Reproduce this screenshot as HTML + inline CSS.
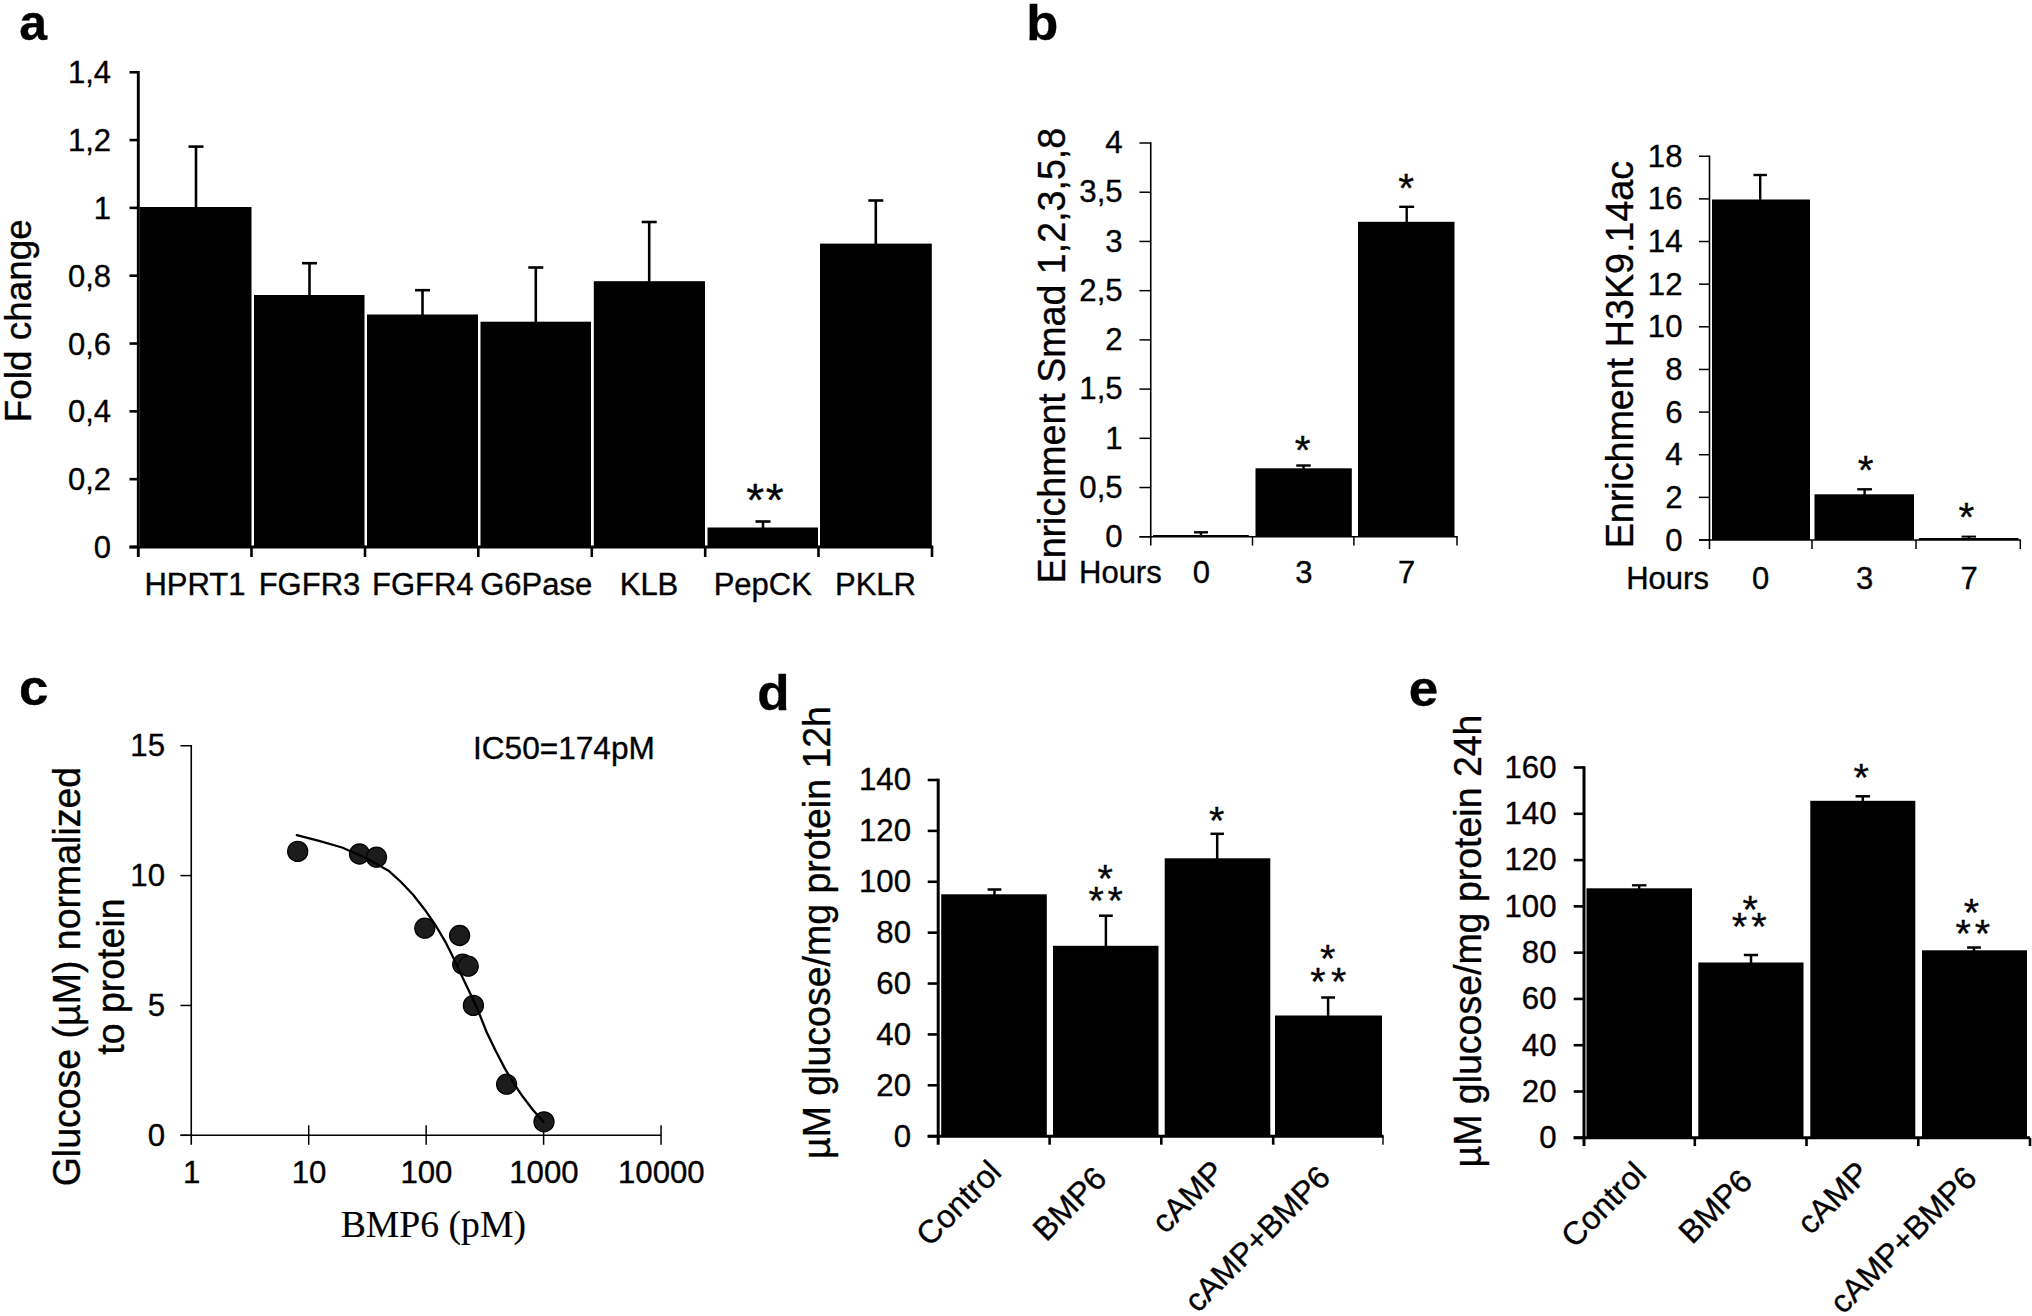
<!DOCTYPE html>
<html lang="en">
<head>
<meta charset="utf-8">
<title>Figure</title>
<style>
html,body{margin:0;padding:0;background:#fff;}
body{width:2032px;height:1316px;overflow:hidden;}
svg{display:block;}
svg text{font-family:'Liberation Sans', sans-serif;fill:#000;stroke:#000;stroke-width:0.35px;}
</style>
</head>
<body>
<svg width="2032" height="1316" viewBox="0 0 2032 1316">
<rect x="0" y="0" width="2032" height="1316" fill="#fff"/>
<text transform="translate(19.30,40.00)" font-size="50" font-weight="bold">a</text>
<text transform="translate(1026.30,40.00) scale(1.05,1)" font-size="50" font-weight="bold">b</text>
<text transform="translate(19.00,705.30) scale(1.06,1)" font-size="50" font-weight="bold">c</text>
<text transform="translate(757.30,710.00) scale(1.06,1)" font-size="50" font-weight="bold">d</text>
<text transform="translate(1408.70,705.50) scale(1.06,1)" font-size="50" font-weight="bold">e</text>
<line x1="129.50" y1="547.00" x2="138.30" y2="547.00" stroke="#000" stroke-width="2.6" stroke-linecap="butt"/>
<text transform="translate(111.00,558.00)" font-size="31" text-anchor="end">0</text>
<line x1="129.50" y1="479.18" x2="138.30" y2="479.18" stroke="#000" stroke-width="2.6" stroke-linecap="butt"/>
<text transform="translate(111.00,490.18)" font-size="31" text-anchor="end">0,2</text>
<line x1="129.50" y1="411.36" x2="138.30" y2="411.36" stroke="#000" stroke-width="2.6" stroke-linecap="butt"/>
<text transform="translate(111.00,422.36)" font-size="31" text-anchor="end">0,4</text>
<line x1="129.50" y1="343.54" x2="138.30" y2="343.54" stroke="#000" stroke-width="2.6" stroke-linecap="butt"/>
<text transform="translate(111.00,354.54)" font-size="31" text-anchor="end">0,6</text>
<line x1="129.50" y1="275.71" x2="138.30" y2="275.71" stroke="#000" stroke-width="2.6" stroke-linecap="butt"/>
<text transform="translate(111.00,286.71)" font-size="31" text-anchor="end">0,8</text>
<line x1="129.50" y1="207.89" x2="138.30" y2="207.89" stroke="#000" stroke-width="2.6" stroke-linecap="butt"/>
<text transform="translate(111.00,218.89)" font-size="31" text-anchor="end">1</text>
<line x1="129.50" y1="140.07" x2="138.30" y2="140.07" stroke="#000" stroke-width="2.6" stroke-linecap="butt"/>
<text transform="translate(111.00,151.07)" font-size="31" text-anchor="end">1,2</text>
<line x1="129.50" y1="72.25" x2="138.30" y2="72.25" stroke="#000" stroke-width="2.6" stroke-linecap="butt"/>
<text transform="translate(111.00,83.25)" font-size="31" text-anchor="end">1,4</text>
<line x1="138.30" y1="70.95" x2="138.30" y2="557.00" stroke="#000" stroke-width="2.9" stroke-linecap="butt"/>
<line x1="129.50" y1="547.00" x2="933.30" y2="547.00" stroke="#000" stroke-width="3.0" stroke-linecap="butt"/>
<line x1="251.50" y1="547.00" x2="251.50" y2="557.00" stroke="#000" stroke-width="2.6" stroke-linecap="butt"/>
<line x1="365.00" y1="547.00" x2="365.00" y2="557.00" stroke="#000" stroke-width="2.6" stroke-linecap="butt"/>
<line x1="478.30" y1="547.00" x2="478.30" y2="557.00" stroke="#000" stroke-width="2.6" stroke-linecap="butt"/>
<line x1="591.80" y1="547.00" x2="591.80" y2="557.00" stroke="#000" stroke-width="2.6" stroke-linecap="butt"/>
<line x1="705.20" y1="547.00" x2="705.20" y2="557.00" stroke="#000" stroke-width="2.6" stroke-linecap="butt"/>
<line x1="818.50" y1="547.00" x2="818.50" y2="557.00" stroke="#000" stroke-width="2.6" stroke-linecap="butt"/>
<line x1="932.00" y1="547.00" x2="932.00" y2="557.00" stroke="#000" stroke-width="2.6" stroke-linecap="butt"/>
<rect x="139.70" y="207.00" width="111.80" height="340.00" fill="#000"/>
<rect x="254.00" y="295.00" width="110.50" height="252.00" fill="#000"/>
<rect x="367.00" y="314.50" width="111.00" height="232.50" fill="#000"/>
<rect x="480.50" y="321.70" width="110.50" height="225.30" fill="#000"/>
<rect x="593.80" y="281.20" width="111.20" height="265.80" fill="#000"/>
<rect x="707.50" y="527.50" width="110.50" height="19.50" fill="#000"/>
<rect x="820.00" y="243.60" width="111.80" height="303.40" fill="#000"/>
<line x1="196.00" y1="146.60" x2="196.00" y2="208.00" stroke="#000" stroke-width="2.6" stroke-linecap="butt"/>
<line x1="188.50" y1="146.60" x2="203.50" y2="146.60" stroke="#000" stroke-width="2.6" stroke-linecap="butt"/>
<line x1="309.50" y1="263.20" x2="309.50" y2="296.00" stroke="#000" stroke-width="2.6" stroke-linecap="butt"/>
<line x1="302.00" y1="263.20" x2="317.00" y2="263.20" stroke="#000" stroke-width="2.6" stroke-linecap="butt"/>
<line x1="422.50" y1="290.20" x2="422.50" y2="315.50" stroke="#000" stroke-width="2.6" stroke-linecap="butt"/>
<line x1="415.00" y1="290.20" x2="430.00" y2="290.20" stroke="#000" stroke-width="2.6" stroke-linecap="butt"/>
<line x1="535.80" y1="267.50" x2="535.80" y2="322.70" stroke="#000" stroke-width="2.6" stroke-linecap="butt"/>
<line x1="528.30" y1="267.50" x2="543.30" y2="267.50" stroke="#000" stroke-width="2.6" stroke-linecap="butt"/>
<line x1="649.20" y1="222.00" x2="649.20" y2="282.20" stroke="#000" stroke-width="2.6" stroke-linecap="butt"/>
<line x1="641.70" y1="222.00" x2="656.70" y2="222.00" stroke="#000" stroke-width="2.6" stroke-linecap="butt"/>
<line x1="763.00" y1="521.50" x2="763.00" y2="528.50" stroke="#000" stroke-width="2.6" stroke-linecap="butt"/>
<line x1="755.50" y1="521.50" x2="770.50" y2="521.50" stroke="#000" stroke-width="2.6" stroke-linecap="butt"/>
<line x1="875.80" y1="200.50" x2="875.80" y2="244.60" stroke="#000" stroke-width="2.6" stroke-linecap="butt"/>
<line x1="868.30" y1="200.50" x2="883.30" y2="200.50" stroke="#000" stroke-width="2.6" stroke-linecap="butt"/>
<text transform="translate(195.00,595.30)" font-size="31" text-anchor="middle">HPRT1</text>
<text transform="translate(309.50,595.30)" font-size="31" text-anchor="middle">FGFR3</text>
<text transform="translate(422.80,595.30)" font-size="31" text-anchor="middle">FGFR4</text>
<text transform="translate(536.20,595.30)" font-size="31" text-anchor="middle">G6Pase</text>
<text transform="translate(649.00,595.30)" font-size="31" text-anchor="middle">KLB</text>
<text transform="translate(762.80,595.30)" font-size="31" text-anchor="middle">PepCK</text>
<text transform="translate(875.50,595.30)" font-size="31" text-anchor="middle">PKLR</text>
<text transform="translate(30.60,320.80) rotate(-90)" font-size="36.9" text-anchor="middle">Fold change</text>
<text transform="translate(755.19,515.81)" font-size="46" text-anchor="middle">*</text>
<text transform="translate(774.59,515.81)" font-size="46" text-anchor="middle">*</text>
<line x1="1139.45" y1="536.75" x2="1150.75" y2="536.75" stroke="#000" stroke-width="1.5" stroke-linecap="butt"/>
<text transform="translate(1122.70,546.95)" font-size="31.2" text-anchor="end">0</text>
<line x1="1139.45" y1="487.53" x2="1150.75" y2="487.53" stroke="#000" stroke-width="1.5" stroke-linecap="butt"/>
<text transform="translate(1122.70,497.73)" font-size="31.2" text-anchor="end">0,5</text>
<line x1="1139.45" y1="438.31" x2="1150.75" y2="438.31" stroke="#000" stroke-width="1.5" stroke-linecap="butt"/>
<text transform="translate(1122.70,448.51)" font-size="31.2" text-anchor="end">1</text>
<line x1="1139.45" y1="389.09" x2="1150.75" y2="389.09" stroke="#000" stroke-width="1.5" stroke-linecap="butt"/>
<text transform="translate(1122.70,399.29)" font-size="31.2" text-anchor="end">1,5</text>
<line x1="1139.45" y1="339.88" x2="1150.75" y2="339.88" stroke="#000" stroke-width="1.5" stroke-linecap="butt"/>
<text transform="translate(1122.70,350.07)" font-size="31.2" text-anchor="end">2</text>
<line x1="1139.45" y1="290.66" x2="1150.75" y2="290.66" stroke="#000" stroke-width="1.5" stroke-linecap="butt"/>
<text transform="translate(1122.70,300.86)" font-size="31.2" text-anchor="end">2,5</text>
<line x1="1139.45" y1="241.44" x2="1150.75" y2="241.44" stroke="#000" stroke-width="1.5" stroke-linecap="butt"/>
<text transform="translate(1122.70,251.64)" font-size="31.2" text-anchor="end">3</text>
<line x1="1139.45" y1="192.22" x2="1150.75" y2="192.22" stroke="#000" stroke-width="1.5" stroke-linecap="butt"/>
<text transform="translate(1122.70,202.42)" font-size="31.2" text-anchor="end">3,5</text>
<line x1="1139.45" y1="143.00" x2="1150.75" y2="143.00" stroke="#000" stroke-width="1.5" stroke-linecap="butt"/>
<text transform="translate(1122.70,153.20)" font-size="31.2" text-anchor="end">4</text>
<line x1="1150.75" y1="142.25" x2="1150.75" y2="545.55" stroke="#000" stroke-width="1.6" stroke-linecap="butt"/>
<line x1="1139.45" y1="536.75" x2="1457.70" y2="536.75" stroke="#000" stroke-width="1.6" stroke-linecap="butt"/>
<line x1="1252.50" y1="536.75" x2="1252.50" y2="545.55" stroke="#000" stroke-width="1.5" stroke-linecap="butt"/>
<line x1="1353.90" y1="536.75" x2="1353.90" y2="545.55" stroke="#000" stroke-width="1.5" stroke-linecap="butt"/>
<line x1="1457.00" y1="536.75" x2="1457.00" y2="545.55" stroke="#000" stroke-width="1.5" stroke-linecap="butt"/>
<rect x="1153.00" y="535.00" width="95.80" height="1.75" fill="#000"/>
<rect x="1255.50" y="468.30" width="96.30" height="68.45" fill="#000"/>
<rect x="1358.00" y="221.80" width="96.50" height="314.95" fill="#000"/>
<line x1="1201.00" y1="532.30" x2="1201.00" y2="535.00" stroke="#000" stroke-width="2.4" stroke-linecap="butt"/>
<line x1="1194.00" y1="532.30" x2="1208.00" y2="532.30" stroke="#000" stroke-width="2.4" stroke-linecap="butt"/>
<line x1="1303.50" y1="465.50" x2="1303.50" y2="469.00" stroke="#000" stroke-width="2.4" stroke-linecap="butt"/>
<line x1="1296.25" y1="465.50" x2="1310.75" y2="465.50" stroke="#000" stroke-width="2.4" stroke-linecap="butt"/>
<line x1="1406.70" y1="206.80" x2="1406.70" y2="222.50" stroke="#000" stroke-width="2.4" stroke-linecap="butt"/>
<line x1="1399.20" y1="206.80" x2="1414.20" y2="206.80" stroke="#000" stroke-width="2.4" stroke-linecap="butt"/>
<text transform="translate(1302.54,463.50)" font-size="40.5" text-anchor="middle">*</text>
<text transform="translate(1406.24,201.80)" font-size="40.5" text-anchor="middle">*</text>
<text transform="translate(1079.00,583.00)" font-size="31">Hours</text>
<text transform="translate(1201.30,583.00)" font-size="31" text-anchor="middle">0</text>
<text transform="translate(1303.80,583.00)" font-size="31" text-anchor="middle">3</text>
<text transform="translate(1406.50,583.00)" font-size="31" text-anchor="middle">7</text>
<text transform="translate(1065.30,355.60) rotate(-90) scale(1,1.05)" font-size="37.6" text-anchor="middle">Enrichment Smad 1,2,3,5,8</text>
<line x1="1699.00" y1="540.00" x2="1709.50" y2="540.00" stroke="#000" stroke-width="1.5" stroke-linecap="butt"/>
<text transform="translate(1682.50,550.60)" font-size="31.2" text-anchor="end">0</text>
<line x1="1699.00" y1="497.36" x2="1709.50" y2="497.36" stroke="#000" stroke-width="1.5" stroke-linecap="butt"/>
<text transform="translate(1682.50,507.96)" font-size="31.2" text-anchor="end">2</text>
<line x1="1699.00" y1="454.72" x2="1709.50" y2="454.72" stroke="#000" stroke-width="1.5" stroke-linecap="butt"/>
<text transform="translate(1682.50,465.32)" font-size="31.2" text-anchor="end">4</text>
<line x1="1699.00" y1="412.08" x2="1709.50" y2="412.08" stroke="#000" stroke-width="1.5" stroke-linecap="butt"/>
<text transform="translate(1682.50,422.68)" font-size="31.2" text-anchor="end">6</text>
<line x1="1699.00" y1="369.44" x2="1709.50" y2="369.44" stroke="#000" stroke-width="1.5" stroke-linecap="butt"/>
<text transform="translate(1682.50,380.04)" font-size="31.2" text-anchor="end">8</text>
<line x1="1699.00" y1="326.81" x2="1709.50" y2="326.81" stroke="#000" stroke-width="1.5" stroke-linecap="butt"/>
<text transform="translate(1682.50,337.41)" font-size="31.2" text-anchor="end">10</text>
<line x1="1699.00" y1="284.17" x2="1709.50" y2="284.17" stroke="#000" stroke-width="1.5" stroke-linecap="butt"/>
<text transform="translate(1682.50,294.77)" font-size="31.2" text-anchor="end">12</text>
<line x1="1699.00" y1="241.53" x2="1709.50" y2="241.53" stroke="#000" stroke-width="1.5" stroke-linecap="butt"/>
<text transform="translate(1682.50,252.13)" font-size="31.2" text-anchor="end">14</text>
<line x1="1699.00" y1="198.89" x2="1709.50" y2="198.89" stroke="#000" stroke-width="1.5" stroke-linecap="butt"/>
<text transform="translate(1682.50,209.49)" font-size="31.2" text-anchor="end">16</text>
<line x1="1699.00" y1="156.25" x2="1709.50" y2="156.25" stroke="#000" stroke-width="1.5" stroke-linecap="butt"/>
<text transform="translate(1682.50,166.85)" font-size="31.2" text-anchor="end">18</text>
<line x1="1709.50" y1="155.50" x2="1709.50" y2="549.00" stroke="#000" stroke-width="1.6" stroke-linecap="butt"/>
<line x1="1699.00" y1="540.00" x2="2021.00" y2="540.00" stroke="#000" stroke-width="1.6" stroke-linecap="butt"/>
<line x1="1812.00" y1="540.00" x2="1812.00" y2="549.00" stroke="#000" stroke-width="1.5" stroke-linecap="butt"/>
<line x1="1916.00" y1="540.00" x2="1916.00" y2="549.00" stroke="#000" stroke-width="1.5" stroke-linecap="butt"/>
<line x1="2020.30" y1="540.00" x2="2020.30" y2="549.00" stroke="#000" stroke-width="1.5" stroke-linecap="butt"/>
<rect x="1712.00" y="199.50" width="98.00" height="340.50" fill="#000"/>
<rect x="1814.50" y="494.30" width="99.50" height="45.70" fill="#000"/>
<rect x="1919.00" y="538.00" width="99.50" height="2.00" fill="#000"/>
<line x1="1760.20" y1="175.00" x2="1760.20" y2="200.50" stroke="#000" stroke-width="2.4" stroke-linecap="butt"/>
<line x1="1753.45" y1="175.00" x2="1766.95" y2="175.00" stroke="#000" stroke-width="2.4" stroke-linecap="butt"/>
<line x1="1864.60" y1="489.30" x2="1864.60" y2="495.00" stroke="#000" stroke-width="2.4" stroke-linecap="butt"/>
<line x1="1857.25" y1="489.30" x2="1871.95" y2="489.30" stroke="#000" stroke-width="2.4" stroke-linecap="butt"/>
<line x1="1968.80" y1="536.60" x2="1968.80" y2="538.50" stroke="#000" stroke-width="2.0" stroke-linecap="butt"/>
<line x1="1961.55" y1="536.60" x2="1976.05" y2="536.60" stroke="#000" stroke-width="2.0" stroke-linecap="butt"/>
<text transform="translate(1865.54,484.30)" font-size="40.5" text-anchor="middle">*</text>
<text transform="translate(1966.44,530.70)" font-size="40.5" text-anchor="middle">*</text>
<text transform="translate(1626.20,588.70)" font-size="31">Hours</text>
<text transform="translate(1760.50,588.70)" font-size="31" text-anchor="middle">0</text>
<text transform="translate(1864.60,588.70)" font-size="31" text-anchor="middle">3</text>
<text transform="translate(1969.00,588.70)" font-size="31" text-anchor="middle">7</text>
<text transform="translate(1632.75,354.60) rotate(-90) scale(1,1.05)" font-size="37.7" text-anchor="middle">Enrichment H3K9.14ac</text>
<line x1="180.45" y1="1135.30" x2="191.25" y2="1135.30" stroke="#000" stroke-width="1.5" stroke-linecap="butt"/>
<text transform="translate(165.00,1145.70)" font-size="31.2" text-anchor="end">0</text>
<line x1="180.45" y1="1005.45" x2="191.25" y2="1005.45" stroke="#000" stroke-width="1.5" stroke-linecap="butt"/>
<text transform="translate(165.00,1015.85)" font-size="31.2" text-anchor="end">5</text>
<line x1="180.45" y1="875.60" x2="191.25" y2="875.60" stroke="#000" stroke-width="1.5" stroke-linecap="butt"/>
<text transform="translate(165.00,886.00)" font-size="31.2" text-anchor="end">10</text>
<line x1="180.45" y1="745.75" x2="191.25" y2="745.75" stroke="#000" stroke-width="1.5" stroke-linecap="butt"/>
<text transform="translate(165.00,756.15)" font-size="31.2" text-anchor="end">15</text>
<line x1="191.25" y1="745.00" x2="191.25" y2="1144.80" stroke="#000" stroke-width="1.6" stroke-linecap="butt"/>
<line x1="180.45" y1="1135.30" x2="661.30" y2="1135.30" stroke="#000" stroke-width="1.6" stroke-linecap="butt"/>
<text transform="translate(191.55,1183.30)" font-size="31.2" text-anchor="middle">1</text>
<line x1="308.70" y1="1125.30" x2="308.70" y2="1144.80" stroke="#000" stroke-width="1.5" stroke-linecap="butt"/>
<text transform="translate(309.00,1183.30)" font-size="31.2" text-anchor="middle">10</text>
<line x1="426.15" y1="1125.30" x2="426.15" y2="1144.80" stroke="#000" stroke-width="1.5" stroke-linecap="butt"/>
<text transform="translate(426.45,1183.30)" font-size="31.2" text-anchor="middle">100</text>
<line x1="543.60" y1="1125.30" x2="543.60" y2="1144.80" stroke="#000" stroke-width="1.5" stroke-linecap="butt"/>
<text transform="translate(543.90,1183.30)" font-size="31.2" text-anchor="middle">1000</text>
<line x1="661.05" y1="1125.30" x2="661.05" y2="1144.80" stroke="#000" stroke-width="1.5" stroke-linecap="butt"/>
<text transform="translate(661.35,1183.30)" font-size="31.2" text-anchor="middle">10000</text>
<circle cx="297.7" cy="851.4" r="10.0" fill="#1c1c1c" stroke="#000" stroke-width="1.3"/>
<circle cx="359.5" cy="854" r="10.0" fill="#1c1c1c" stroke="#000" stroke-width="1.3"/>
<circle cx="376.5" cy="857.2" r="10.0" fill="#1c1c1c" stroke="#000" stroke-width="1.3"/>
<circle cx="424.8" cy="928.2" r="10.0" fill="#1c1c1c" stroke="#000" stroke-width="1.3"/>
<circle cx="459.6" cy="935.5" r="10.0" fill="#1c1c1c" stroke="#000" stroke-width="1.3"/>
<circle cx="462.7" cy="964.2" r="10.0" fill="#1c1c1c" stroke="#000" stroke-width="1.3"/>
<circle cx="468.2" cy="966.2" r="10.0" fill="#1c1c1c" stroke="#000" stroke-width="1.3"/>
<circle cx="473.4" cy="1005.4" r="10.0" fill="#1c1c1c" stroke="#000" stroke-width="1.3"/>
<circle cx="506.6" cy="1084.2" r="10.0" fill="#1c1c1c" stroke="#000" stroke-width="1.3"/>
<circle cx="544" cy="1121.8" r="10.0" fill="#1c1c1c" stroke="#000" stroke-width="1.3"/>
<polyline fill="none" stroke="#000" stroke-width="2.3" stroke-linejoin="round" stroke-linecap="round" points="296.8,835.1 320.0,841.2 342.0,847.5 366.0,858.0 388.5,870.7 401.0,882.0 413.1,894.8 426.0,911.3 436.0,926.0 445.4,941.8 453.0,957.0 460.9,974.1 476.4,1006.4 486.7,1032.2 495.5,1050.5 504.8,1068.4 513.5,1083.0 522.9,1096.8 533.0,1110.0 543.6,1121.9"/>
<text transform="translate(473.00,758.50)" font-size="31.6">IC50=174pM</text>
<text transform="translate(340.70,1237.20)" font-size="37.7" style="font-family:'Liberation Serif', serif;stroke-width:0.1px">BMP6 (pM)</text>
<text transform="translate(79.50,976.60) rotate(-90) scale(1,1.05)" font-size="37.5" text-anchor="middle">Glucose (µM) normalized</text>
<text transform="translate(124.25,976.60) rotate(-90) scale(1,1.05)" font-size="37.5" text-anchor="middle">to protein</text>
<line x1="927.70" y1="1136.20" x2="938.20" y2="1136.20" stroke="#000" stroke-width="2.6" stroke-linecap="butt"/>
<text transform="translate(911.00,1146.50)" font-size="31.2" text-anchor="end">0</text>
<line x1="927.70" y1="1085.31" x2="938.20" y2="1085.31" stroke="#000" stroke-width="2.6" stroke-linecap="butt"/>
<text transform="translate(911.00,1095.61)" font-size="31.2" text-anchor="end">20</text>
<line x1="927.70" y1="1034.43" x2="938.20" y2="1034.43" stroke="#000" stroke-width="2.6" stroke-linecap="butt"/>
<text transform="translate(911.00,1044.73)" font-size="31.2" text-anchor="end">40</text>
<line x1="927.70" y1="983.54" x2="938.20" y2="983.54" stroke="#000" stroke-width="2.6" stroke-linecap="butt"/>
<text transform="translate(911.00,993.84)" font-size="31.2" text-anchor="end">60</text>
<line x1="927.70" y1="932.66" x2="938.20" y2="932.66" stroke="#000" stroke-width="2.6" stroke-linecap="butt"/>
<text transform="translate(911.00,942.96)" font-size="31.2" text-anchor="end">80</text>
<line x1="927.70" y1="881.77" x2="938.20" y2="881.77" stroke="#000" stroke-width="2.6" stroke-linecap="butt"/>
<text transform="translate(911.00,892.07)" font-size="31.2" text-anchor="end">100</text>
<line x1="927.70" y1="830.89" x2="938.20" y2="830.89" stroke="#000" stroke-width="2.6" stroke-linecap="butt"/>
<text transform="translate(911.00,841.19)" font-size="31.2" text-anchor="end">120</text>
<line x1="927.70" y1="780.00" x2="938.20" y2="780.00" stroke="#000" stroke-width="2.6" stroke-linecap="butt"/>
<text transform="translate(911.00,790.30)" font-size="31.2" text-anchor="end">140</text>
<line x1="938.20" y1="778.70" x2="938.20" y2="1144.70" stroke="#000" stroke-width="3.0" stroke-linecap="butt"/>
<line x1="927.70" y1="1136.20" x2="1383.60" y2="1136.20" stroke="#000" stroke-width="3.0" stroke-linecap="butt"/>
<line x1="1049.60" y1="1136.20" x2="1049.60" y2="1144.70" stroke="#000" stroke-width="2.6" stroke-linecap="butt"/>
<line x1="1161.30" y1="1136.20" x2="1161.30" y2="1144.70" stroke="#000" stroke-width="2.6" stroke-linecap="butt"/>
<line x1="1273.20" y1="1136.20" x2="1273.20" y2="1144.70" stroke="#000" stroke-width="2.6" stroke-linecap="butt"/>
<line x1="1383.00" y1="1136.20" x2="1383.00" y2="1144.70" stroke="#000" stroke-width="1.4" stroke-linecap="butt"/>
<rect x="941.20" y="894.30" width="105.60" height="241.90" fill="#000"/>
<rect x="1053.00" y="945.80" width="105.50" height="190.40" fill="#000"/>
<rect x="1164.70" y="858.30" width="105.60" height="277.90" fill="#000"/>
<rect x="1275.00" y="1015.50" width="107.00" height="120.70" fill="#000"/>
<line x1="994.50" y1="889.50" x2="994.50" y2="895.00" stroke="#000" stroke-width="2.5" stroke-linecap="butt"/>
<line x1="987.60" y1="889.50" x2="1001.40" y2="889.50" stroke="#000" stroke-width="2.5" stroke-linecap="butt"/>
<line x1="1105.90" y1="915.70" x2="1105.90" y2="947.00" stroke="#000" stroke-width="2.5" stroke-linecap="butt"/>
<line x1="1099.00" y1="915.70" x2="1112.80" y2="915.70" stroke="#000" stroke-width="2.5" stroke-linecap="butt"/>
<line x1="1217.20" y1="833.80" x2="1217.20" y2="859.00" stroke="#000" stroke-width="2.5" stroke-linecap="butt"/>
<line x1="1210.45" y1="833.80" x2="1223.95" y2="833.80" stroke="#000" stroke-width="2.5" stroke-linecap="butt"/>
<line x1="1328.10" y1="997.50" x2="1328.10" y2="1016.50" stroke="#000" stroke-width="2.5" stroke-linecap="butt"/>
<line x1="1321.20" y1="997.50" x2="1335.00" y2="997.50" stroke="#000" stroke-width="2.5" stroke-linecap="butt"/>
<text transform="translate(1105.24,892.28)" font-size="39.5" text-anchor="middle">*</text>
<text transform="translate(1096.14,913.98)" font-size="39.5" text-anchor="middle">*</text>
<text transform="translate(1115.14,913.98)" font-size="39.5" text-anchor="middle">*</text>
<text transform="translate(1216.74,833.68)" font-size="39.5" text-anchor="middle">*</text>
<text transform="translate(1327.74,972.08)" font-size="39.5" text-anchor="middle">*</text>
<text transform="translate(1318.04,994.78)" font-size="39.5" text-anchor="middle">*</text>
<text transform="translate(1338.74,994.78)" font-size="39.5" text-anchor="middle">*</text>
<text transform="translate(1003.20,1174.00) rotate(-45)" font-size="32.3" text-anchor="end">Control</text>
<text transform="translate(1108.40,1180.30) rotate(-45)" font-size="32.3" text-anchor="end">BMP6</text>
<text transform="translate(1226.20,1174.00) rotate(-45)" font-size="32.3" text-anchor="end">cAMP</text>
<text transform="translate(1332.10,1179.30) rotate(-45)" font-size="31.8" text-anchor="end">cAMP+BMP6</text>
<text transform="translate(830.00,932.50) rotate(-90) scale(1,1.03)" font-size="37.5" text-anchor="middle">µM glucose/mg protein 12h</text>
<line x1="1573.70" y1="1137.80" x2="1584.00" y2="1137.80" stroke="#000" stroke-width="2.6" stroke-linecap="butt"/>
<text transform="translate(1556.50,1148.10)" font-size="31.2" text-anchor="end">0</text>
<line x1="1573.70" y1="1091.51" x2="1584.00" y2="1091.51" stroke="#000" stroke-width="2.6" stroke-linecap="butt"/>
<text transform="translate(1556.50,1101.81)" font-size="31.2" text-anchor="end">20</text>
<line x1="1573.70" y1="1045.22" x2="1584.00" y2="1045.22" stroke="#000" stroke-width="2.6" stroke-linecap="butt"/>
<text transform="translate(1556.50,1055.52)" font-size="31.2" text-anchor="end">40</text>
<line x1="1573.70" y1="998.94" x2="1584.00" y2="998.94" stroke="#000" stroke-width="2.6" stroke-linecap="butt"/>
<text transform="translate(1556.50,1009.24)" font-size="31.2" text-anchor="end">60</text>
<line x1="1573.70" y1="952.65" x2="1584.00" y2="952.65" stroke="#000" stroke-width="2.6" stroke-linecap="butt"/>
<text transform="translate(1556.50,962.95)" font-size="31.2" text-anchor="end">80</text>
<line x1="1573.70" y1="906.36" x2="1584.00" y2="906.36" stroke="#000" stroke-width="2.6" stroke-linecap="butt"/>
<text transform="translate(1556.50,916.66)" font-size="31.2" text-anchor="end">100</text>
<line x1="1573.70" y1="860.08" x2="1584.00" y2="860.08" stroke="#000" stroke-width="2.6" stroke-linecap="butt"/>
<text transform="translate(1556.50,870.38)" font-size="31.2" text-anchor="end">120</text>
<line x1="1573.70" y1="813.79" x2="1584.00" y2="813.79" stroke="#000" stroke-width="2.6" stroke-linecap="butt"/>
<text transform="translate(1556.50,824.09)" font-size="31.2" text-anchor="end">140</text>
<line x1="1573.70" y1="767.50" x2="1584.00" y2="767.50" stroke="#000" stroke-width="2.6" stroke-linecap="butt"/>
<text transform="translate(1556.50,777.80)" font-size="31.2" text-anchor="end">160</text>
<line x1="1584.00" y1="766.20" x2="1584.00" y2="1146.10" stroke="#000" stroke-width="3.0" stroke-linecap="butt"/>
<line x1="1573.70" y1="1137.80" x2="2030.00" y2="1137.80" stroke="#000" stroke-width="3.0" stroke-linecap="butt"/>
<line x1="1694.80" y1="1137.80" x2="1694.80" y2="1146.10" stroke="#000" stroke-width="2.6" stroke-linecap="butt"/>
<line x1="1806.50" y1="1137.80" x2="1806.50" y2="1146.10" stroke="#000" stroke-width="2.6" stroke-linecap="butt"/>
<line x1="1918.30" y1="1137.80" x2="1918.30" y2="1146.10" stroke="#000" stroke-width="2.6" stroke-linecap="butt"/>
<line x1="2030.00" y1="1137.80" x2="2030.00" y2="1146.10" stroke="#000" stroke-width="2.6" stroke-linecap="butt"/>
<rect x="1586.50" y="888.30" width="105.50" height="249.50" fill="#000"/>
<rect x="1698.30" y="962.50" width="105.20" height="175.30" fill="#000"/>
<rect x="1810.30" y="800.80" width="105.00" height="337.00" fill="#000"/>
<rect x="1922.00" y="950.30" width="105.00" height="187.50" fill="#000"/>
<line x1="1639.20" y1="885.30" x2="1639.20" y2="889.00" stroke="#000" stroke-width="2.3" stroke-linecap="butt"/>
<line x1="1631.95" y1="885.30" x2="1646.45" y2="885.30" stroke="#000" stroke-width="2.3" stroke-linecap="butt"/>
<line x1="1751.00" y1="955.00" x2="1751.00" y2="963.50" stroke="#000" stroke-width="2.5" stroke-linecap="butt"/>
<line x1="1743.85" y1="955.00" x2="1758.15" y2="955.00" stroke="#000" stroke-width="2.5" stroke-linecap="butt"/>
<line x1="1862.80" y1="796.30" x2="1862.80" y2="802.00" stroke="#000" stroke-width="2.5" stroke-linecap="butt"/>
<line x1="1855.55" y1="796.30" x2="1870.05" y2="796.30" stroke="#000" stroke-width="2.5" stroke-linecap="butt"/>
<line x1="1974.00" y1="947.50" x2="1974.00" y2="951.00" stroke="#000" stroke-width="2.5" stroke-linecap="butt"/>
<line x1="1967.10" y1="947.50" x2="1980.90" y2="947.50" stroke="#000" stroke-width="2.5" stroke-linecap="butt"/>
<text transform="translate(1750.24,923.08)" font-size="39.5" text-anchor="middle">*</text>
<text transform="translate(1739.44,939.58)" font-size="39.5" text-anchor="middle">*</text>
<text transform="translate(1759.04,939.58)" font-size="39.5" text-anchor="middle">*</text>
<text transform="translate(1861.14,791.48)" font-size="39.5" text-anchor="middle">*</text>
<text transform="translate(1971.44,926.48)" font-size="39.5" text-anchor="middle">*</text>
<text transform="translate(1963.24,947.28)" font-size="39.5" text-anchor="middle">*</text>
<text transform="translate(1982.34,947.28)" font-size="39.5" text-anchor="middle">*</text>
<text transform="translate(1648.20,1175.50) rotate(-45)" font-size="32.3" text-anchor="end">Control</text>
<text transform="translate(1754.25,1183.00) rotate(-45)" font-size="32.3" text-anchor="end">BMP6</text>
<text transform="translate(1871.30,1175.00) rotate(-45)" font-size="32.3" text-anchor="end">cAMP</text>
<text transform="translate(1978.50,1180.00) rotate(-45)" font-size="32.0" text-anchor="end">cAMP+BMP6</text>
<text transform="translate(1480.75,941.00) rotate(-90) scale(1,1.02)" font-size="37.5" text-anchor="middle">µM glucose/mg protein 24h</text>
</svg>
</body>
</html>
